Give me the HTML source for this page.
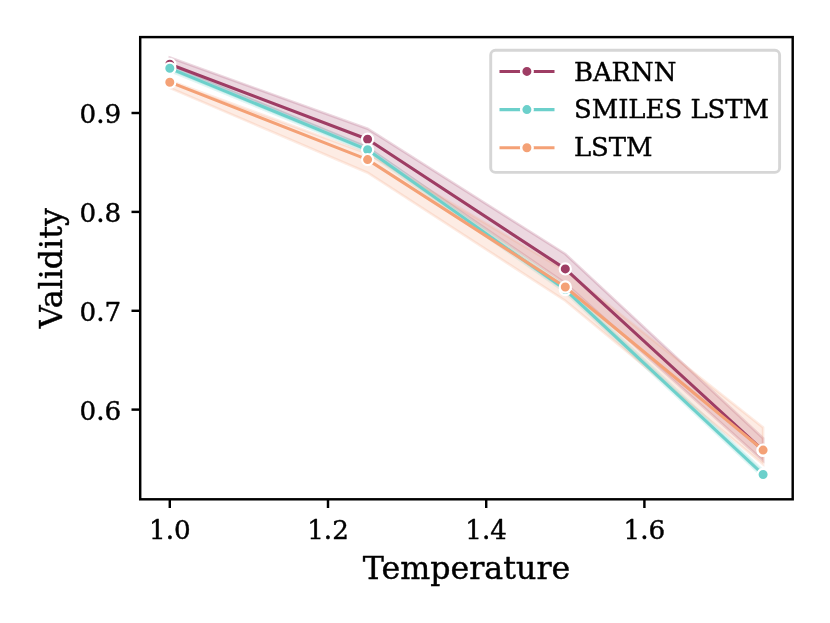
<!DOCTYPE html>
<html lang="en"><head><meta charset="utf-8"><title>Validity vs Temperature</title>
<style>html,body{margin:0;padding:0;background:#fff}body{width:830px;height:623px;overflow:hidden}svg{display:block}text{font-family:"DejaVu Serif","Liberation Serif",serif;fill:#000;stroke:#000;stroke-width:0.42px;stroke-linejoin:round}</style></head><body>
<svg width="830" height="623" viewBox="0 0 830 623">
<rect width="830" height="623" fill="#fff"/>
<defs><clipPath id="ax"><rect x="140.2" y="37.1" width="652.5" height="462.2"/></clipPath></defs>
<g clip-path="url(#ax)">
<polygon points="169.8,57.5 367.6,128.7 565.3,254.0 763.1,438.2 763.1,460.6 565.3,283.3 367.6,147.6 169.8,66.0" fill="#9e3d64" fill-opacity="0.2" stroke="#9e3d64" stroke-opacity="0.2" stroke-width="2.6" stroke-linejoin="miter"/>
<polygon points="169.8,65.8 367.6,147.2 565.3,286.0 763.1,470.8 763.1,477.2 565.3,292.2 367.6,152.4 169.8,70.8" fill="#6cd0cb" fill-opacity="0.2" stroke="#6cd0cb" stroke-opacity="0.2" stroke-width="2.6" stroke-linejoin="miter"/>
<polygon points="169.8,80.8 367.6,153.5 565.3,270.6 763.1,427.4 763.1,464.2 565.3,300.7 367.6,172.7 169.8,88.0" fill="#f4a176" fill-opacity="0.2" stroke="#f4a176" stroke-opacity="0.2" stroke-width="2.6" stroke-linejoin="miter"/>
<polyline points="169.8,64.3 367.6,139.2 565.3,268.9 763.1,450.4" fill="none" stroke="#9e3d64" stroke-width="3.05" stroke-linejoin="round" stroke-linecap="butt"/>
<circle cx="169.8" cy="64.3" r="5.58" fill="#9e3d64" stroke="#fff" stroke-width="2.15"/>
<circle cx="367.6" cy="139.2" r="5.58" fill="#9e3d64" stroke="#fff" stroke-width="2.15"/>
<circle cx="565.3" cy="268.9" r="5.58" fill="#9e3d64" stroke="#fff" stroke-width="2.15"/>
<circle cx="763.1" cy="450.4" r="5.58" fill="#9e3d64" stroke="#fff" stroke-width="2.15"/>
<polyline points="169.8,68.3 367.6,149.8 565.3,289.6 763.1,474.5" fill="none" stroke="#6cd0cb" stroke-width="3.05" stroke-linejoin="round" stroke-linecap="butt"/>
<circle cx="169.8" cy="68.3" r="5.58" fill="#6cd0cb" stroke="#fff" stroke-width="2.15"/>
<circle cx="367.6" cy="149.8" r="5.58" fill="#6cd0cb" stroke="#fff" stroke-width="2.15"/>
<circle cx="565.3" cy="289.6" r="5.58" fill="#6cd0cb" stroke="#fff" stroke-width="2.15"/>
<circle cx="763.1" cy="474.5" r="5.58" fill="#6cd0cb" stroke="#fff" stroke-width="2.15"/>
<polyline points="169.8,82.2 367.6,159.6 565.3,287.0 763.1,450.1" fill="none" stroke="#f4a176" stroke-width="3.05" stroke-linejoin="round" stroke-linecap="butt"/>
<circle cx="169.8" cy="82.2" r="5.58" fill="#f4a176" stroke="#fff" stroke-width="2.15"/>
<circle cx="367.6" cy="159.6" r="5.58" fill="#f4a176" stroke="#fff" stroke-width="2.15"/>
<circle cx="565.3" cy="287.0" r="5.58" fill="#f4a176" stroke="#fff" stroke-width="2.15"/>
<circle cx="763.1" cy="450.1" r="5.58" fill="#f4a176" stroke="#fff" stroke-width="2.15"/>
</g>
<line x1="169.8" y1="499.3" x2="169.8" y2="508.0" stroke="#000" stroke-width="2.45"/>
<text x="169.8" y="538.6" font-size="26.2" text-anchor="middle">1.0</text>
<line x1="328.0" y1="499.3" x2="328.0" y2="508.0" stroke="#000" stroke-width="2.45"/>
<text x="328.0" y="538.6" font-size="26.2" text-anchor="middle">1.2</text>
<line x1="486.2" y1="499.3" x2="486.2" y2="508.0" stroke="#000" stroke-width="2.45"/>
<text x="486.2" y="538.6" font-size="26.2" text-anchor="middle">1.4</text>
<line x1="644.4" y1="499.3" x2="644.4" y2="508.0" stroke="#000" stroke-width="2.45"/>
<text x="644.4" y="538.6" font-size="26.2" text-anchor="middle">1.6</text>
<line x1="131.5" y1="409.6" x2="140.2" y2="409.6" stroke="#000" stroke-width="2.45"/>
<text x="121.2" y="419.8" font-size="26.2" text-anchor="end">0.6</text>
<line x1="131.5" y1="310.8" x2="140.2" y2="310.8" stroke="#000" stroke-width="2.45"/>
<text x="121.2" y="321.0" font-size="26.2" text-anchor="end">0.7</text>
<line x1="131.5" y1="211.9" x2="140.2" y2="211.9" stroke="#000" stroke-width="2.45"/>
<text x="121.2" y="222.1" font-size="26.2" text-anchor="end">0.8</text>
<line x1="131.5" y1="113.0" x2="140.2" y2="113.0" stroke="#000" stroke-width="2.45"/>
<text x="121.2" y="123.2" font-size="26.2" text-anchor="end">0.9</text>
<rect x="140.2" y="37.1" width="652.5" height="462.2" fill="none" stroke="#000" stroke-width="2.45" stroke-linejoin="miter"/>
<text x="466.5" y="578.9" font-size="31.7" text-anchor="middle">Temperature</text>
<text transform="translate(61.7,268.2) rotate(-90)" font-size="31.7" text-anchor="middle">Validity</text>
<rect x="490.7" y="50.3" width="288.90000000000003" height="122.10000000000001" rx="4.7" ry="4.7" fill="#fff" fill-opacity="0.8" stroke="#ccc" stroke-opacity="0.8" stroke-width="2.9"/>
<line x1="499.5" y1="71.4" x2="554.5" y2="71.4" stroke="#9e3d64" stroke-width="3.05"/>
<circle cx="526.9" cy="71.4" r="5.75" fill="#9e3d64" stroke="#fff" stroke-width="2.5"/>
<text x="573.9" y="80.6" font-size="25.9">BARNN</text>
<line x1="499.5" y1="109.6" x2="554.5" y2="109.6" stroke="#6cd0cb" stroke-width="3.05"/>
<circle cx="526.9" cy="109.6" r="5.75" fill="#6cd0cb" stroke="#fff" stroke-width="2.5"/>
<text x="573.9" y="118.1" font-size="25.9">SMILES LSTM</text>
<line x1="499.5" y1="147.8" x2="554.5" y2="147.8" stroke="#f4a176" stroke-width="3.05"/>
<circle cx="526.9" cy="147.8" r="5.75" fill="#f4a176" stroke="#fff" stroke-width="2.5"/>
<text x="573.9" y="156.0" font-size="25.9">LSTM</text>
</svg></body></html>
